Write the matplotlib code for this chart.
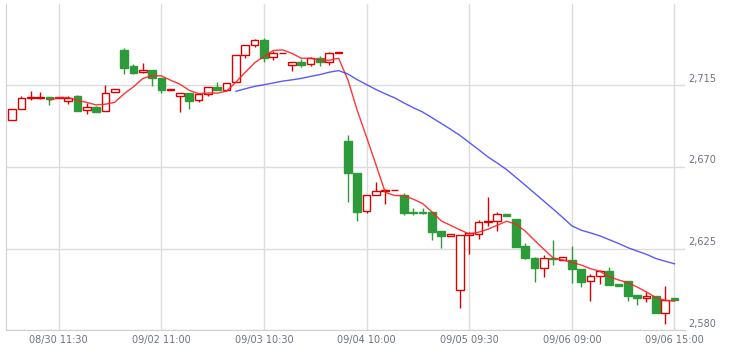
import numpy as np
import matplotlib
matplotlib.use("Agg")
import matplotlib.pyplot as plt
import matplotlib.transforms as mtransforms

# candle data (one candle per period)
opens = [2695.7, 2701.8, 2708.2, 2708.2, 2708.6, 2708.2, 2706.5, 2709.1, 2701.2, 2703.0,
         2700.7, 2711.3, 2734.4, 2725.5, 2722.2, 2723.3, 2718.9, 2712.3, 2709.1, 2710.8,
         2706.9, 2710.4, 2714.1, 2712.2, 2717.0, 2731.5, 2737.0, 2740.0, 2730.4, 2732.6,
         2726.0, 2727.8, 2726.6, 2729.9, 2727.7, 2732.6, 2684.3, 2666.7, 2645.6, 2654.4,
         2656.9, 2657.1, 2654.4, 2645.3, 2645.3, 2645.1, 2634.6, 2632.1, 2602.1, 2632.4,
         2633.1, 2639.6, 2640.1, 2644.3, 2641.4, 2626.5, 2620.0, 2614.6, 2619.8, 2619.0,
         2618.9, 2613.8, 2607.0, 2609.8, 2612.6, 2605.6, 2607.2, 2599.3, 2598.0, 2599.1,
         2589.8, 2597.6]
highs = [2701.8, 2709.3, 2711.9, 2711.1, 2708.6, 2708.6, 2709.3, 2709.6, 2705.4, 2703.8,
         2715.0, 2712.8, 2735.4, 2726.6, 2727.3, 2723.3, 2718.9, 2712.8, 2710.6, 2711.0,
         2710.0, 2713.9, 2717.0, 2716.1, 2731.5, 2737.0, 2740.3, 2740.9, 2734.1, 2732.9,
         2727.7, 2729.3, 2730.5, 2731.1, 2733.2, 2733.2, 2687.6, 2666.7, 2654.4, 2661.6,
         2658.0, 2657.3, 2655.8, 2647.6, 2647.6, 2645.1, 2634.6, 2632.9, 2632.4, 2634.3,
         2640.8, 2653.3, 2645.1, 2644.3, 2641.4, 2628.0, 2620.6, 2621.4, 2629.8, 2620.3,
         2626.7, 2613.8, 2610.9, 2613.0, 2614.8, 2605.6, 2607.2, 2599.3, 2601.3, 2599.1,
         2604.6, 2597.6]
lows = [2695.7, 2701.8, 2706.9, 2707.5, 2704.2, 2708.0, 2704.9, 2701.0, 2699.4, 2700.5,
        2700.7, 2711.3, 2721.1, 2721.1, 2721.8, 2714.8, 2710.8, 2712.3, 2700.1, 2701.8,
        2706.0, 2709.3, 2712.4, 2712.2, 2717.0, 2729.9, 2736.1, 2727.7, 2728.8, 2732.6,
        2722.8, 2724.9, 2725.6, 2725.5, 2726.0, 2732.6, 2650.6, 2640.4, 2644.5, 2654.4,
        2649.5, 2657.1, 2643.5, 2643.7, 2644.0, 2629.8, 2625.2, 2632.1, 2592.3, 2622.0,
        2630.2, 2637.5, 2634.8, 2643.2, 2626.1, 2619.2, 2606.5, 2609.3, 2615.9, 2619.0,
        2605.9, 2604.1, 2596.4, 2605.6, 2605.2, 2604.7, 2596.0, 2594.2, 2595.5, 2589.8,
        2583.4, 2596.7]
closes = [2701.8, 2707.8, 2708.6, 2708.5, 2707.5, 2708.5, 2708.2, 2701.0, 2702.9, 2700.5,
          2710.6, 2712.8, 2724.7, 2721.9, 2723.3, 2718.9, 2712.2, 2712.8, 2710.6, 2706.5,
          2710.0, 2713.9, 2712.4, 2716.1, 2731.5, 2737.0, 2739.8, 2730.2, 2732.6, 2732.9,
          2727.7, 2726.3, 2729.9, 2727.7, 2732.6, 2733.2, 2666.5, 2645.4, 2654.4, 2656.8,
          2657.5, 2657.3, 2644.8, 2645.0, 2645.0, 2634.4, 2632.2, 2632.9, 2632.4, 2633.4,
          2639.5, 2640.3, 2644.1, 2643.2, 2626.1, 2620.0, 2614.4, 2619.7, 2619.5, 2620.3,
          2613.8, 2606.7, 2609.8, 2612.6, 2605.2, 2604.7, 2599.1, 2598.0, 2599.1, 2589.8,
          2596.7, 2596.7]

# short average (red), starts at the 5th candle
ma_short = [2706.8, 2708.2, 2708.3, 2706.7, 2705.6, 2704.2, 2704.6, 2705.6, 2710.3, 2714.1,
            2718.7, 2720.3, 2720.2, 2717.8, 2715.6, 2712.2, 2710.4, 2710.8, 2710.7, 2711.8,
            2716.8, 2722.2, 2727.4, 2730.9, 2734.2, 2734.5, 2732.6, 2729.9, 2729.9, 2728.9,
            2728.8, 2729.9, 2718.0, 2701.1, 2686.4, 2671.3, 2656.1, 2654.3, 2654.2, 2652.3,
            2649.9, 2645.3, 2640.3, 2637.9, 2635.4, 2633.1, 2634.1, 2635.7, 2637.9, 2640.1,
            2638.6, 2634.7, 2629.6, 2624.7, 2619.9, 2618.8, 2617.5, 2616.0, 2614.0, 2612.6,
            2609.6, 2607.8, 2606.3, 2603.9, 2601.2, 2598.1, 2596.5, 2596.1]
# long average (blue), starts at the 25th candle
ma_long = [2711.7, 2713.1, 2714.4, 2715.3, 2716.3, 2717.3, 2718.0, 2718.8, 2719.9, 2720.9,
           2722.2, 2723.1, 2721.2, 2718.1, 2715.4, 2712.7, 2710.3, 2708.1, 2705.3, 2702.7,
           2700.3, 2697.2, 2694.0, 2690.8, 2687.4, 2683.5, 2679.6, 2675.6, 2672.2, 2668.6,
           2664.3, 2660.0, 2655.6, 2651.2, 2646.8, 2642.3, 2637.6, 2635.2, 2633.7, 2632.1,
           2630.0, 2627.9, 2625.6, 2623.7, 2621.9, 2619.6, 2618.1, 2616.7]

tick_idx = [5, 16, 27, 38, 49, 60, 71]
tick_labels = ['08/30 11:30', '09/02 11:00', '09/03 10:30', '09/04 10:00',
               '09/05 09:30', '09/06 09:00', '09/06 15:00']
y_ticks = [2580, 2625, 2670, 2715]

red = '#dd0000'
green = '#2e9b3a'
txt = '#6b7280'

fig = plt.figure(figsize=(7.29, 3.54), dpi=100)
ax = fig.add_axes([6 / 729, 23.6 / 354, 679 / 729, 326.8 / 354])

x = np.arange(len(closes))
for i in x:
    o, h, l, cl = opens[i], highs[i], lows[i], closes[i]
    up = cl >= o
    col = red if up else green
    ax.vlines(i, l, h, color=col, lw=1, zorder=2)
    hgt = cl - o
    if abs(hgt) < 0.4:
        hgt = 0.4 if up else -0.4
    ax.bar(i, hgt, bottom=o, width=0.82, facecolor='white' if up else green,
           edgecolor=col, lw=1, zorder=3)

n = len(closes)
ax.plot(x[n - len(ma_short):], ma_short, color='#ff2020', lw=1, alpha=0.9, zorder=4)
ax.plot(x[n - len(ma_long):], ma_long, color='#3030ff', lw=1, alpha=0.8, zorder=4)

ax.set_xlim(-0.65, 72.13)
ax.set_ylim(2580, 2760)
ax.set_xticks(tick_idx)
ax.set_xticklabels(tick_labels, fontsize=7, color=txt)
ax.set_yticks(y_ticks)
ax.set_yticklabels([])
ax.tick_params(length=0, pad=3)
ax.grid(True, color='#dcdcdc', lw=1)
ax.set_axisbelow(True)
for s in ['top', 'right']:
    ax.spines[s].set_visible(False)
for s in ['left', 'bottom']:
    ax.spines[s].set_color('#d0d0d0')

# price labels sit just above their grid lines, right of the plot
trans = mtransforms.offset_copy(ax.get_yaxis_transform(), fig=fig, x=2, y=6.5 * 0.72, units='points')
for v in y_ticks:
    ax.text(1.0, v, f'{v:,}', transform=trans, fontsize=7, color=txt, va='center', ha='left')

fig.savefig('out.png', dpi=100)
